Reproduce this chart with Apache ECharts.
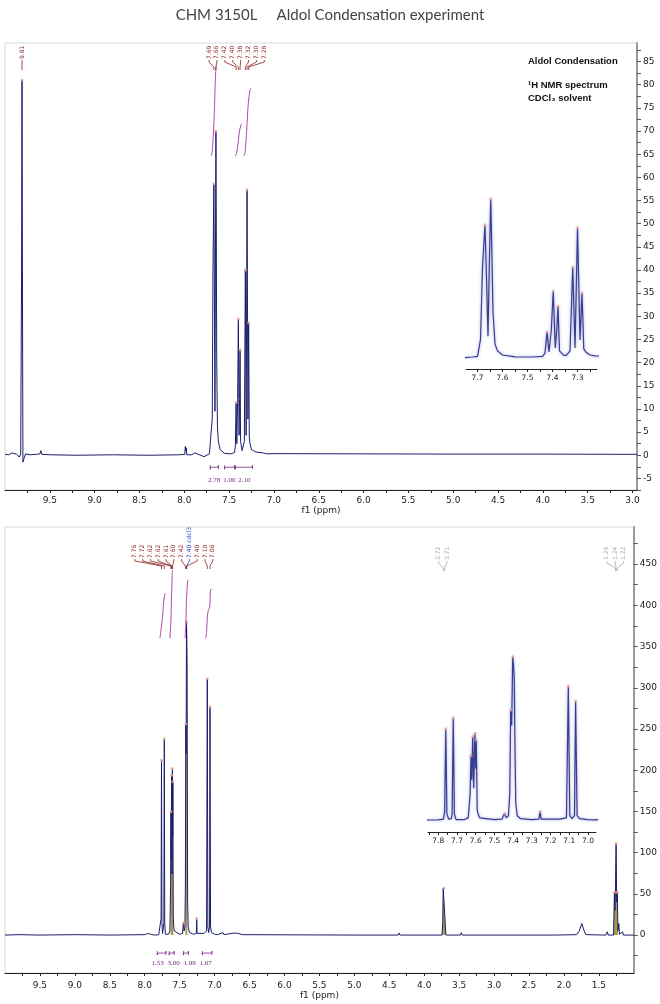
<!DOCTYPE html>
<html>
<head>
<meta charset="utf-8">
<title>CHM 3150L Aldol Condensation experiment</title>
<script src="https://cdn.jsdelivr.net/npm/echarts@6.0.0/dist/echarts.min.js"></script>
<style>
  html, body { margin: 0; padding: 0; background: #fff; }
  #chart { width: 660px; height: 1004px; }
</style>
</head>
<body>
<div id="chart"></div>
<script>
// ---- spectrum 1 (upper panel) : chemical shift (ppm) / intensity ----
var topShift = [10.00, 9.96, 9.92, 9.90, 9.87, 9.84, 9.825, 9.815, 9.81, 9.805, 9.80, 9.79, 9.77, 9.72, 9.65, 9.61, 9.60, 9.59, 9.50, 9.20, 8.80, 8.40, 8.05,
  7.995, 7.988, 7.984, 7.978, 7.972, 7.92, 7.88, 7.86, 7.78, 7.72, 7.70, 7.688, 7.680, 7.670, 7.664, 7.658, 7.652, 7.647, 7.643, 7.638, 7.630, 7.620, 7.600,
  7.550, 7.480, 7.440, 7.430, 7.422, 7.414, 7.405, 7.397, 7.389, 7.383, 7.378, 7.372, 7.355, 7.345, 7.330, 7.319, 7.310, 7.305, 7.300, 7.290, 7.282,
  7.275, 7.268, 7.250, 7.230, 7.20, 7.12, 7.10, 7.08, 7.00, 6.00, 5.00, 4.00, 2.95];
var topIntensity = [0.2, 0.1, 0.5, 0.6, 0.2, -0.4, 0.3, 40, 81, 35, -1.5, -0.8, 0.3, 0.1, 0.2, 0.3, 1.0, 0.2, 0.1, 0.0, 0.1, 0.0, 0.1,
  0.2, 1.9, 0.9, 1.6, 0.1, 0.1, 0.5, 0.1, -0.3, 0.3, 0.6, 8, 40, 58.6, 35, 9.5, 45, 70, 49, 20, 6, 3, 1.2,
  0.4, 0.3, 0.6, 2, 11.4, 2.5, 12, 29.4, 4.3, 12, 22.8, 3, 1.0, 1.0, 3, 40, 4.3, 30, 57.3, 7.8, 28.6,
  4, 2.6, 1.2, 0.8, 0.7, 0.5, 0.8, 0.3, 0.35, 0.3, 0.25, 0.25, 0.2];

// ---- spectrum 2 (lower panel) ----
var bottomShift = [10.00, 9.80, 9.50, 9.00, 8.50, 8.00, 7.95, 7.90, 7.85, 7.80, 7.772, 7.766, 7.760, 7.754, 7.745, 7.730, 7.726, 7.720, 7.714, 7.705,
  7.660, 7.640, 7.630, 7.625, 7.621, 7.616, 7.611, 7.604, 7.600, 7.597, 7.592, 7.586, 7.578, 7.570, 7.50, 7.46, 7.446, 7.437, 7.425, 7.418,
  7.413, 7.408, 7.402, 7.398, 7.394, 7.390, 7.386, 7.378, 7.360, 7.30, 7.262, 7.256, 7.250, 7.150, 7.115, 7.105, 7.097, 7.085, 7.072, 7.066,
  7.058, 7.045, 7.000, 6.960, 6.880, 6.865, 6.720, 6.700, 6.660, 6.600, 5.000, 4.370, 4.360, 4.345, 4.030, 4.020, 4.000,
  3.745, 3.735, 3.728, 3.712, 3.700, 3.690, 3.480, 3.470, 3.455, 3.390, 3.380, 3.370, 2.830, 2.820, 2.810, 2.160, 2.150, 2.130,
  1.820, 1.780, 1.745, 1.710, 1.690, 1.400, 1.380, 1.365, 1.290, 1.278, 1.270, 1.262, 1.254, 1.245, 1.236, 1.228, 1.215, 1.205, 1.160, 1.150, 1.000];
var bottomIntensity = [0, 0.5, 0, 0.5, 0, 0.5, 2, 0.5, 0, 0.5, 2, 20, 212, 15, 2, 3, 15, 238, 15, 1,
  1, 5, 60, 150, 93, 194, 74, 202, 120, 186, 23, 12, 5, 3, 1, 2, 15, 5, 10, 60,
  256, 220, 380, 360, 330, 170, 40, 10, 3, 1, 2, 20, 2, 2, 5, 311, 10, 3, 10, 277,
  10, 3, 1, 0.5, 3, 0.5, 2.5, 1, 2, 0.5, 0, 0, 2.5, 0, 0, 1.5, 0,
  0, 15, 57, 57, 15, 0, 0, 3, 0, 0, 1, 0, 0, 1, 0, 0, 1.5, 0,
  0.5, 5, 14, 5, 0.5, 0, 4, 0, 0, 52, 30, 60, 111, 40, 52, 5, 14, 1, 4, 0, 0];

// ---- peak picking labels ----
var topPeakText = ['9.81', '7.69', '7.66', '7.42', '7.40', '7.38', '7.32', '7.30', '7.28'];
var topPeakShift = [9.81, 7.670, 7.647, 7.422, 7.397, 7.378, 7.319, 7.300, 7.282];
var bottomPeakText = ['7.76', '7.72', '7.62', '7.62', '7.61', '7.60', '7.42', '7.40 cdcl3', '7.40', '7.10', '7.06'];
var bottomPeakShift = [7.760, 7.720, 7.625, 7.616, 7.611, 7.604, 7.418, 7.402, 7.398, 7.105, 7.066];
var bottomOtherText = ['3.72', '3.71', '1.26', '1.24', '1.22'];
var bottomOtherShift = [3.728, 3.712, 1.262, 1.254, 1.236];

// ---- integrals ----
var topIntegralText = ['2.78', '1.00', '2.10'];
var topIntegralFrom = [7.71, 7.55, 7.43];
var topIntegralTo = [7.62, 7.44, 7.24];
var topIntegralShift = [
  [7.700, 7.690, 7.677, 7.665, 7.654, 7.646],
  [7.434, 7.416, 7.387, 7.369, 7.353],
  [7.342, 7.323, 7.304, 7.286, 7.267, 7.256]
];
var topIntegralLevel = [
  [64.6, 65.5, 68.8, 73.8, 81.0, 84.0],
  [64.6, 65.2, 69.5, 71.3, 71.5],
  [64.6, 65.2, 70.2, 76.0, 78.9, 79.2]
];
var bottomIntegralText = ['1.53', '3.00', '1.99', '1.67'];
var bottomIntegralFrom = [7.82, 7.65, 7.446, 7.175];
var bottomIntegralTo = [7.697, 7.58, 7.375, 7.04];
var bottomIntegralShift = [
  [7.782, 7.768, 7.745, 7.735, 7.721, 7.707],
  [7.640, 7.625, 7.617, 7.607, 7.603],
  [7.422, 7.412, 7.403, 7.389, 7.379],
  [7.127, 7.113, 7.104, 7.090, 7.070, 7.061, 7.051]
];
var bottomIntegralLevel = [
  [360, 370, 386, 398, 410, 415],
  [360, 382, 410, 435, 443],
  [360, 378, 406, 427, 431],
  [360, 370, 386, 394, 398, 416, 420]
];
// integration regions shaded on the lower spectrum
var bottomFillFrom = [3.745, 1.29, 7.63, 7.418];
var bottomFillTo = [3.69, 1.225, 7.59, 7.39];

// ---- axis tick labels ----
var topXLabels = [9.5, 9.0, 8.5, 8.0, 7.5, 7.0, 6.5, 6.0, 5.5, 5.0, 4.5, 4.0, 3.5, 3.0];
var bottomXLabels = [9.5, 9.0, 8.5, 8.0, 7.5, 7.0, 6.5, 6.0, 5.5, 5.0, 4.5, 4.0, 3.5, 3.0, 2.5, 2.0, 1.5];
var topYLabels = [-5, 0, 5, 10, 15, 20, 25, 30, 35, 40, 45, 50, 55, 60, 65, 70, 75, 80, 85];
var bottomYLabels = [0, 50, 100, 150, 200, 250, 300, 350, 400, 450];
var topInsetLabels = [7.7, 7.6, 7.5, 7.4, 7.3];
var bottomInsetLabels = [7.8, 7.7, 7.6, 7.5, 7.4, 7.3, 7.2, 7.1, 7.0];

function steps(a, b, s) {
  var out = [];
  for (var i = 0; a + i * s <= b + 1e-9; i++) out.push(+(a + i * s).toFixed(3));
  return out;
}
function zip(xs, ys) { return xs.map(function (x, i) { return [x, ys[i]]; }); }
function localMax(data, min) {
  return data.filter(function (p, i) {
    return i > 0 && i < data.length - 1 && p[1] >= min && p[1] >= data[i - 1][1] && p[1] > data[i + 1][1];
  });
}

var topData = zip(topShift, topIntensity);
var bottomData = zip(bottomShift, bottomIntensity);

var NAVY = '#1b1e6c';
var INSET = '#3a3d8e';
var AXIS = '#222';
var LABELFONT = 'DejaVu Sans';

function line(ax, data, color, width, z) {
  return { type: 'line', xAxisIndex: ax, yAxisIndex: ax, data: data, showSymbol: false, symbol: 'none',
    lineStyle: { color: color, width: width }, z: z, silent: true };
}
function insetLine(ax, data) {
  var s = line(ax, data, INSET, 1.2, 3);
  s.lineStyle.shadowColor = 'rgba(110,120,215,0.7)';
  s.lineStyle.shadowBlur = 3;
  return s;
}
function marks(ax, data, min) {
  return { type: 'scatter', xAxisIndex: ax, yAxisIndex: ax, data: localMax(data, min), symbolSize: 3,
    itemStyle: { color: '#eea39a' }, z: 4, silent: true };
}

function peakLabels(ax, texts, shifts, cfg) {
  return {
    type: 'custom', xAxisIndex: ax, yAxisIndex: ax, silent: true, z: 20,
    data: [[shifts[0], 0]],
    renderItem: function (params, api) {
      var cs = params.coordSys;
      var px = shifts.map(function (s) { return api.coord([s, 0])[0]; });
      var lx = [];
      var start = 0;
      for (var i = 1; i <= px.length; i++) {
        if (i === px.length || Math.abs(px[i] - px[i - 1]) > 30) {
          var n = i - start, mean = 0, k;
          for (k = start; k < i; k++) mean += px[k];
          mean = mean / n + (n > 1 ? cfg.dx : 0);
          for (k = start; k < i; k++) lx[k] = mean + (k - start - (n - 1) / 2) * cfg.gap;
          start = i;
        }
      }
      var yb = cs.y + cfg.top;
      var children = [];
      texts.forEach(function (t, j) {
        var c = /cdcl3/.test(t) ? '#2a3fc4' : cfg.color;
        children.push({ type: 'text', x: lx[j], y: yb, rotation: Math.PI / 2,
          style: { text: t, fill: c, font: cfg.font, align: 'left', verticalAlign: 'middle' } });
        children.push({ type: 'polyline',
          shape: { points: [[lx[j], yb + 1], [lx[j], yb + 3], [px[j], yb + 8], [px[j], yb + 11]] },
          style: { stroke: c, lineWidth: 0.8, fill: null } });
      });
      return { type: 'group', children: children };
    }
  };
}

function integralMarks(ax, texts, from, to, cfg) {
  return {
    type: 'custom', xAxisIndex: ax, yAxisIndex: ax, silent: true, z: 20,
    data: [[from[0], 0]],
    renderItem: function (params, api) {
      var y0 = api.coord([from[0], 0])[1];
      var x1 = from.map(function (s) { return api.coord([s, 0])[0]; });
      var x2 = to.map(function (s) { return api.coord([s, 0])[0]; });
      var cx = x1.map(function (x, i) { return (x + x2[i]) / 2; });
      var tx = cx.slice();
      for (var i = 1; i < tx.length; i++) if (tx[i] < tx[i - 1] + cfg.gap) tx[i] = tx[i - 1] + cfg.gap;
      var shift = (cx.reduce(function (a, b) { return a + b; }, 0) - tx.reduce(function (a, b) { return a + b; }, 0)) / tx.length;
      var children = [];
      texts.forEach(function (t, j) {
        var yb = y0 + cfg.bracket;
        children.push({ type: 'polyline',
          shape: { points: [[x1[j], yb - 2], [x1[j], yb + 2], [x1[j], yb], [x2[j], yb], [x2[j], yb - 2], [x2[j], yb + 2]] },
          style: { stroke: '#7a2a86', lineWidth: 0.8, fill: null } });
        children.push({ type: 'text', x: tx[j] + shift, y: y0 + cfg.text,
          style: { text: t, fill: '#6e2479', font: '7px "Liberation Serif"', align: 'center', verticalAlign: 'middle' } });
      });
      return { type: 'group', children: children };
    }
  };
}

var series = [];
// upper panel
topIntegralShift.forEach(function (s, i) {
  var ser = line(0, zip(s, topIntegralLevel[i]), '#b049ac', 1, 5);
  ser.smooth = 0.3;
  series.push(ser);
});
series.push(line(0, topData, NAVY, 1, 3));
series.push(marks(0, topData, 8));
series.push(peakLabels(0, topPeakText, topPeakShift, { color: '#8c1f1f', font: '6px "' + LABELFONT + '"', gap: 7.9, dx: 1, top: 16 }));
series.push(integralMarks(0, topIntegralText, topIntegralFrom, topIntegralTo, { gap: 15, bracket: 12, text: 25 }));
// upper inset
series.push(insetLine(1, topData));
series.push(marks(1, topData, 8));

// lower panel
bottomFillFrom.forEach(function (a, i) {
  var b = bottomFillTo[i];
  var part = bottomData.filter(function (p) { return p[0] <= a && p[0] >= b; });
  series.push({ type: 'line', xAxisIndex: 2, yAxisIndex: 2, data: [[a, 0]].concat(part, [[b, 0]]), showSymbol: false, symbol: 'none',
    lineStyle: { width: 0 }, areaStyle: { color: '#a39640', opacity: 0.95 }, z: 2, silent: true });
});
bottomIntegralShift.forEach(function (s, i) {
  var ser = line(2, zip(s, bottomIntegralLevel[i]), '#b049ac', 1, 5);
  ser.smooth = 0.3;
  series.push(ser);
});
series.push(line(2, bottomData, NAVY, 1, 3));
series.push(marks(2, bottomData, 15));
series.push(peakLabels(2, bottomPeakText, bottomPeakShift, { color: '#8c1f1f', font: '6px "' + LABELFONT + '"', gap: 7.8, dx: -7, top: 31 }));
series.push(peakLabels(2, bottomOtherText, bottomOtherShift, { color: '#a8a8a8', font: '6px "' + LABELFONT + '"', gap: 8.4, dx: -1, top: 33 }));
series.push(integralMarks(2, bottomIntegralText, bottomIntegralFrom, bottomIntegralTo, { gap: 16, bracket: 18, text: 28 }));
// lower inset
series.push(insetLine(3, bottomData));
series.push(marks(3, bottomData, 15));

function xAxis(grid, min, max, labels, ticks, size, margin, name, gap) {
  return {
    type: 'value', gridIndex: grid, inverse: true, min: min, max: max,
    axisLine: { show: true, onZero: false, lineStyle: { color: AXIS, width: 1 } },
    axisTick: { show: true, customValues: ticks, length: 3, lineStyle: { color: AXIS } },
    axisLabel: { customValues: labels, fontSize: size, color: AXIS, fontFamily: LABELFONT, margin: margin,
      formatter: function (v) { return v.toFixed(1); } },
    splitLine: { show: false },
    name: name, nameLocation: 'middle', nameGap: gap,
    nameTextStyle: { fontSize: 9, color: AXIS, fontFamily: LABELFONT }
  };
}
function yAxis(grid, min, max, labels, ticks) {
  return {
    type: 'value', gridIndex: grid, position: 'right', min: min, max: max,
    axisLine: { show: true, lineStyle: { color: '#9a9a9a', width: 2 } },
    axisTick: { show: true, customValues: ticks, length: 4, lineStyle: { color: '#555' } },
    axisLabel: { customValues: labels, fontSize: 9, color: AXIS, fontFamily: LABELFONT, margin: 6 },
    splitLine: { show: false }
  };
}
function hiddenY(grid, min, max) {
  return { type: 'value', gridIndex: grid, min: min, max: max, show: false, splitLine: { show: false } };
}

var option = {
  animation: false,
  backgroundColor: '#fff',
  title: {
    text: 'CHM 3150L     Aldol Condensation experiment', left: 'center', top: 3,
    textStyle: { fontFamily: 'Lato', fontSize: 15, fontWeight: 'normal', color: '#444' }
  },
  graphic: [
    { type: 'text', left: 528, top: 56, style: { text: 'Aldol Condensation', font: 'bold 9.5px "Liberation Sans"', fill: '#111' } },
    { type: 'text', left: 528, top: 80, style: { text: '¹H NMR spectrum', font: 'bold 9.5px "Liberation Sans"', fill: '#111' } },
    { type: 'text', left: 528, top: 93, style: { text: 'CDCl₃ solvent', font: 'bold 9.5px "Liberation Sans"', fill: '#111' } }
  ],
  grid: [
    { left: 5, top: 43, width: 632, height: 447, show: true, borderColor: '#d9d9d9', borderWidth: 1 },
    { left: 466, top: 190, width: 131, height: 179 },
    { left: 5, top: 527, width: 632, height: 446, show: true, borderColor: '#d9d9d9', borderWidth: 1 },
    { left: 428, top: 640, width: 168, height: 192 }
  ],
  xAxis: [
    xAxis(0, 2.95, 10, topXLabels, steps(3.0, 9.75, 0.25), 9, 6, 'f1 (ppm)', 16),
    xAxis(1, 7.222, 7.746, topInsetLabels, steps(7.25, 7.70, 0.05), 7.5, 5, '', 0),
    xAxis(2, 1.0, 10, bottomXLabels, steps(1.25, 9.75, 0.25), 9, 8, 'f1 (ppm)', 18),
    xAxis(3, 6.957, 7.855, bottomInsetLabels, steps(7.0, 7.85, 0.05), 7.5, 5, '', 0)
  ],
  yAxis: [
    yAxis(0, -7.5, 89, topYLabels, steps(-7.5, 87.5, 2.5)),
    hiddenY(1, -4.98, 73.9),
    yAxis(2, -46, 495, bottomYLabels, steps(-25, 475, 25)),
    hiddenY(3, -27.9, 418.6)
  ],
  series: series
};

var chart = echarts.init(document.getElementById('chart'), null, { renderer: 'canvas' });
chart.setOption(option);
</script>
</body>
</html>
